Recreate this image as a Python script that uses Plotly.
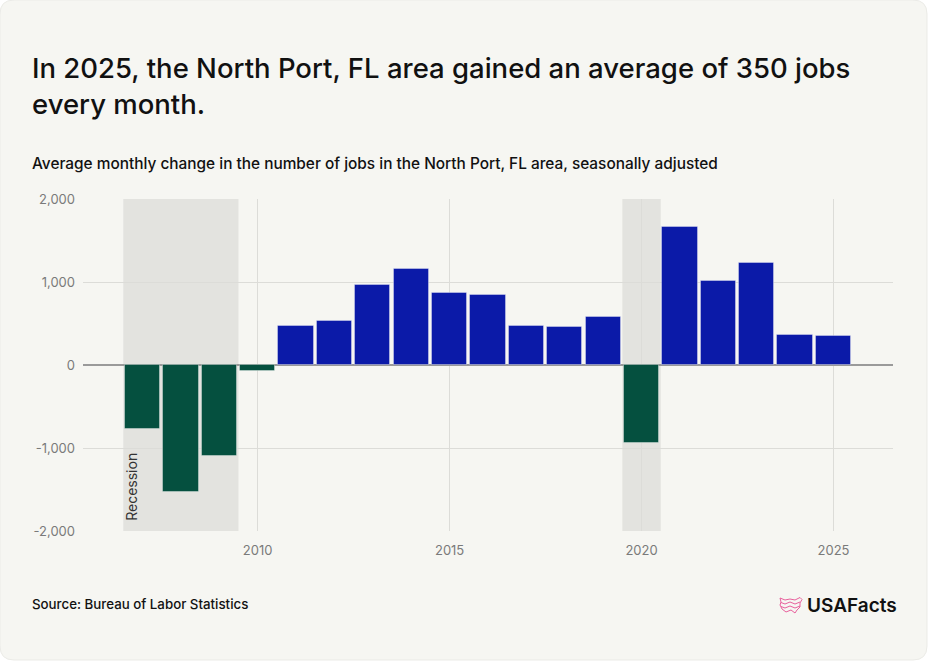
import plotly.graph_objects as go

years = list(range(2007, 2026))
values = [-770, -1530, -1095, -75, 470, 530, 965, 1155, 870, 845,
          470, 460, 580, -940, 1665, 1010, 1230, 360, 350]
recessions = [(2006.5, 2009.5), (2019.5, 2020.5)]
y_ticks = [2000, 1000, 0, -1000, -2000]
y_tick_labels = ["2,000", "1,000", "0", "-1,000", "-2,000"]
x_ticks = [2010, 2015, 2020, 2025]

W_FIG, H_FIG = 929, 663
L, R, T, B = 83, 36, 199, 132
PW, PH = W_FIG - L - R, H_FIG - T - B


def px(x):
    return (x - L) / PW


def py(y):
    return (H_FIG - B - y) / PH


FONT = "Inter, 'Noto Sans', sans-serif"
POS = "#0b1aa8"
NEG = "#05503f"

colors = [POS if v >= 0 else NEG for v in values]

fig = go.Figure()
fig.add_trace(go.Bar(
    x=years, y=values, width=0.92,
    marker=dict(color=colors, line=dict(color="rgba(255,255,255,0.35)", width=1)),
    hoverinfo="x+y",
))

shapes = []
x0, y0, x1, y1, r = 0, 0, 927, 660, 14
card = (f"M {px(x0+r)} {py(y0)} L {px(x1-r)} {py(y0)} "
        f"Q {px(x1)} {py(y0)} {px(x1)} {py(y0+r)} L {px(x1)} {py(y1-r)} "
        f"Q {px(x1)} {py(y1)} {px(x1-r)} {py(y1)} L {px(x0+r)} {py(y1)} "
        f"Q {px(x0)} {py(y1)} {px(x0)} {py(y1-r)} L {px(x0)} {py(y0+r)} "
        f"Q {px(x0)} {py(y0)} {px(x0+r)} {py(y0)} Z")
shapes.append(dict(type="path", path=card, xref="paper", yref="paper",
                   fillcolor="#f6f6f2", line=dict(color="#ebebe7", width=1), layer="below"))
for a, b in recessions:
    shapes.append(dict(type="rect", xref="x", yref="paper", x0=a, x1=b, y0=0, y1=1,
                       fillcolor="#e3e3df", line=dict(width=0), layer="below"))

pink = "#e8609c"
def pth(points):
    return "M " + " L ".join(f"{px(a)} {py(b)}" for a, b in points)
icon_outline = [(780, 598), (785, 600), (790, 599), (795, 600), (800, 597.5), (802, 599.5),
                (800, 603), (800, 607), (797, 610), (795, 613), (791, 610), (786, 612),
                (782, 609), (780, 605), (781, 602), (780, 598)]
shapes.append(dict(type="path", path=pth(icon_outline) + " Z", xref="paper", yref="paper",
                   line=dict(color=pink, width=1), fillcolor="rgba(0,0,0,0)", layer="above"))
for yy in (602.5, 606.5):
    wave = [(781, yy), (785, yy + 1.5), (790, yy - 0.5), (795, yy + 1.5), (800, yy - 0.5)]
    shapes.append(dict(type="path", path=pth(wave), xref="paper", yref="paper",
                       line=dict(color=pink, width=1), layer="above"))

annotations = [
    dict(text="In 2025, the North Port, FL area gained an average of 350 jobs<br>every month.",
         xref="paper", yref="paper",
         x=px(30), y=py(49), xanchor="left", yanchor="top", align="left", showarrow=False,
         font=dict(family=FONT, size=27.5, color="#111111", weight=500)),
    dict(text="Average monthly change in the number of jobs in the North Port, FL area, seasonally adjusted",
         xref="paper", yref="paper",
         x=px(30), y=py(163), xanchor="left", yanchor="middle", align="left", showarrow=False,
         font=dict(family=FONT, size=15.4, color="#111111", weight=500)),
    dict(text="Source: Bureau of Labor Statistics", xref="paper", yref="paper",
         x=px(30), y=py(604), xanchor="left", yanchor="middle", align="left", showarrow=False,
         font=dict(family=FONT, size=13.3, color="#111111", weight=500)),
    dict(text="USAFacts", xref="paper", yref="paper", x=px(899), y=py(605),
         xanchor="right", yanchor="middle",
         showarrow=False, font=dict(family=FONT, size=19, color="#111111", weight=600)),
    dict(text="Recession", x=2006.5, xref="x", y=py(523), yref="paper", xanchor="left",
         yanchor="bottom", textangle=-90, showarrow=False, xshift=-3,
         font=dict(family=FONT, size=14, color="#333333")),
]

fig.update_layout(
    width=W_FIG, height=H_FIG,
    margin=dict(l=L, r=R, t=T, b=B, pad=0),
    paper_bgcolor="#ffffff", plot_bgcolor="rgba(0,0,0,0)",
    showlegend=False, bargap=0,
    shapes=shapes, annotations=annotations,
    xaxis=dict(range=[2005.45, 2026.55], tickvals=x_ticks, ticktext=[str(t) for t in x_ticks],
               showgrid=True, gridcolor="#dcdcd8", gridwidth=1, zeroline=False,
               showline=False, ticks="", ticklabelstandoff=10,
               tickfont=dict(family=FONT, size=13, color="#7a7a7a"), fixedrange=True),
    yaxis=dict(range=[-2000, 2000], tickvals=y_ticks, ticktext=y_tick_labels,
               showgrid=True, gridcolor="#dcdcd8", gridwidth=1,
               zeroline=True, zerolinecolor="#9a9a9a", zerolinewidth=1.5,
               showline=False, ticks="", ticklabelstandoff=7,
               tickfont=dict(family=FONT, size=13, color="#7a7a7a"), fixedrange=True),
)

fig.write_html("out.html")
